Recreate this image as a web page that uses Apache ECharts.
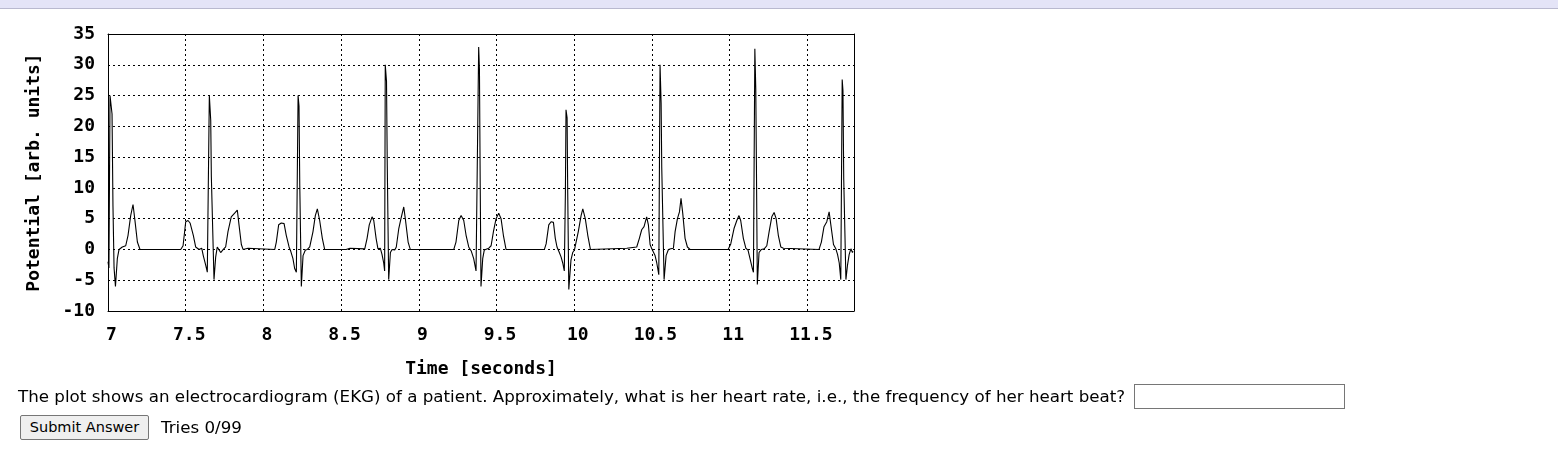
<!DOCTYPE html>
<html>
<head>
<meta charset="utf-8">
<title>EKG</title>
<script src="https://cdn.jsdelivr.net/npm/echarts@6/dist/echarts.min.js"></script>
<style>
  body { margin: 0; width: 1558px; height: 453px; background: #fff; position: relative; overflow: hidden; font-family: "DejaVu Sans", Verdana, sans-serif; }
  .topbar { position: absolute; left: 0; top: 0; width: 1558px; height: 8px; background: #e4e4f7; border-bottom: 1px solid #b9b9cf; }
  #chart { position: absolute; left: 0; top: 0; width: 1558px; height: 453px; }
  .question { position: absolute; left: 18px; top: 386px; font-size: 16.7px; color: #000; white-space: nowrap; }
  .answer { position: absolute; left: 1134px; top: 384px; width: 209px; height: 23px; border: 1px solid #767676; background: #fff; }
  .submit { position: absolute; left: 20px; top: 415px; width: 127px; height: 23px; border: 1px solid #767676; border-radius: 2px; background: #efefef; font-size: 14.5px; line-height: 23px; text-align: center; color: #000; }
  .tries { position: absolute; left: 161px; top: 417px; font-size: 16.7px; color: #000; }
</style>
</head>
<body>
<div id="chart"></div>
<div class="topbar"></div>
<div class="question">The plot shows an electrocardiogram (EKG) of a patient. Approximately, what is her heart rate, i.e., the frequency of her heart beat?</div>
<div class="answer"></div>
<div class="submit">Submit Answer</div>
<div class="tries">Tries 0/99</div>
<script>
  // time [s] and potential, vertex by vertex
  var timeSec = [
    7.000, 7.006, 7.013, 7.019, 7.026, 7.032, 7.039, 7.048, 7.060, 7.071, 7.092, 7.114, 7.129, 7.146, 7.161, 7.172, 7.189, 7.206,
    7.468, 7.483, 7.500, 7.515, 7.528, 7.536, 7.549, 7.564, 7.586, 7.603, 7.613, 7.629, 7.639, 7.652, 7.658, 7.661, 7.665, 7.682,
    7.693, 7.703, 7.714, 7.725, 7.742, 7.757, 7.772, 7.793, 7.815, 7.832, 7.843, 7.858, 7.869, 7.901,
    8.073, 8.083, 8.098, 8.115, 8.133, 8.147, 8.165, 8.176, 8.190, 8.201, 8.212, 8.223, 8.229, 8.234, 8.244,
    8.255, 8.270, 8.283, 8.298, 8.319, 8.334, 8.347, 8.362, 8.379, 8.394, 8.532, 8.557,
    8.652, 8.667, 8.681, 8.699, 8.710, 8.725, 8.737, 8.752, 8.763, 8.774, 8.780, 8.784, 8.792, 8.797, 8.806,
    8.817, 8.828, 8.845, 8.855, 8.871, 8.885, 8.903, 8.913, 8.931, 8.945,
    9.225, 9.239, 9.257, 9.272, 9.289, 9.304, 9.321, 9.338, 9.353, 9.368, 9.385, 9.390, 9.395, 9.400,
    9.411, 9.421, 9.432, 9.450, 9.465, 9.480, 9.497, 9.514, 9.529, 9.544, 9.561,
    9.808, 9.819, 9.836, 9.851, 9.866, 9.878, 9.889, 9.904, 9.915, 9.926, 9.936, 9.943, 9.947, 9.954, 9.958, 9.965,
    9.979, 9.990, 10.001, 10.012, 10.026, 10.044, 10.055, 10.071, 10.087, 10.104, 10.338,
    10.402, 10.419, 10.434, 10.449, 10.466, 10.477, 10.488, 10.499, 10.509, 10.520, 10.531, 10.544, 10.552, 10.559, 10.563, 10.578,
    10.591, 10.606, 10.621, 10.638, 10.649, 10.664, 10.677, 10.687, 10.698, 10.713, 10.728, 10.745,
    10.990, 11.007, 11.028, 11.046, 11.060, 11.071, 11.088, 11.104, 11.118, 11.131, 11.146, 11.153, 11.162, 11.168, 11.172, 11.178,
    11.189, 11.204, 11.222, 11.239, 11.254, 11.271, 11.286, 11.299, 11.313, 11.329, 11.346,
    11.575, 11.590, 11.607, 11.625, 11.640, 11.651, 11.668, 11.683, 11.694, 11.705, 11.715, 11.724, 11.729, 11.734, 11.748,
    11.758, 11.769, 11.780, 11.790, 11.794
  ]
  var potential = [
    -2, -3, 25, 25, 22, 7, -3, -6, -1.5, 0, 0.4, 0.6, 2.3, 5.5, 7.3, 5, 1.2, 0,
    0, 0.6, 4.5, 4.7, 4.3, 4.5, 2.3, 0.4, 0, 0.2, -1, -2.6, -3.7, 25, 25, 21, 11.8, -4.9,
    -1.2, 0.4, 0.2, -0.5, 0, 0.4, 2.9, 5.3, 5.9, 6.4, 4, 0.8, 0, 0.2,
    0, 1.2, 4, 4.3, 4.2, 2.3, 0.4, -0.3, -1.5, -3.1, -3.7, 25, 23.3, 10.3, -6,
    -1, -0.1, 0, 0.4, 2.9, 5.5, 6.6, 4.7, 1.8, 0, 0, 0.2,
    0.1, 1.8, 4, 5.3, 4.7, 1.8, 0.1, 0.2, -0.8, -2.2, -3.5, 30, 27.3, 13.5, -4.9,
    -0.5, 0, -0.1, 0.4, 3.4, 5, 6.9, 5, 1.2, 0,
    0, 1.2, 4.7, 5.5, 4.7, 2.3, 0.4, -0.3, -1.5, -3.5, 32.9, 29.3, 10.3, -6,
    -1.5, -0.1, 0.1, 0.2, 0.6, 2.9, 5, 5.9, 5, 2.3, 0,
    0, 0.9, 4, 4.5, 4.4, 1.8, 0.4, -0.5, -1.2, -2.2, -3.5, 9.2, 22.7, 21.4, 9.2, -6.5,
    -1.7, -0.5, -0.1, 0.2, 2.9, 5.5, 6.6, 5, 2.3, 0, 0.2,
    0.4, 1.8, 3.2, 3.7, 5.3, 4, 0.8, 0.1, -0.2, -1, -2.2, -4.1, 30, 23.8, 13.3, -4.9,
    -1, 0, 0.1, 0.2, 2.9, 5, 6.1, 8.3, 5.9, 1.8, 0.4, 0,
    0, 0.9, 3.4, 4.7, 5.5, 4.7, 1.8, 0.2, -0.1, -1.5, -3.1, -3.7, 32.6, 26.1, 14.2, -5.7,
    -0.5, 0, 0.1, 0.6, 2.9, 5.3, 6, 5, 2.3, 0.4, 0.2,
    0, 1.2, 3.7, 4.5, 6.1, 4, 0.8, 0.1, -0.8, -2.2, -4.9, 27.6, 25.8, 11.4, -4.9,
    -2.6, -0.8, 0.1, -0.5, -0.3
  ]
  var xTicks = [7, 7.5, 8, 8.5, 9, 9.5, 10, 10.5, 11, 11.5]
  var yTicks = [-10, -5, 0, 5, 10, 15, 20, 25, 30, 35]

  var labelFont = {
    fontFamily: 'DejaVu Sans Mono',
    fontWeight: 'bold',
    fontSize: 18,
    color: '#000'
  }
  var gridLine = {
    show: true,
    showMinLine: false,
    showMaxLine: false,
    lineStyle: { color: '#000', width: 1, type: [2, 3] }
  }
  var frameLine = { show: true, onZero: false, lineStyle: { color: '#000', width: 1 } }

  var myChart = echarts.init(document.getElementById('chart'))
  var option = {
    animation: false,
    grid: {
      left: 108,
      top: 34,
      width: 746,
      height: 277
    },
    xAxis: [{
      type: 'value',
      position: 'bottom',
      min: 7,
      max: 11.8,
      interval: 0.5,
      name: 'Time [seconds]',
      nameLocation: 'middle',
      nameGap: 49,
      nameTextStyle: labelFont,
      axisLine: frameLine,
      axisTick: { show: false },
      splitLine: gridLine,
      axisLabel: Object.assign({
        margin: 15,
        padding: [0, 0, 0, 7],
        showMaxLabel: false,
        formatter: function (v) {
          var r = Math.round(v * 10) / 10
          return xTicks.indexOf(r) >= 0 ? String(r) : ''
        }
      }, labelFont)
    }, {
      type: 'value',
      position: 'top',
      min: 7,
      max: 11.8,
      axisLine: frameLine,
      axisTick: { show: false },
      axisLabel: { show: false },
      splitLine: { show: false }
    }],
    yAxis: [{
      type: 'value',
      position: 'left',
      min: -10,
      max: 35,
      interval: 5,
      name: 'Potential [arb. units]',
      nameLocation: 'middle',
      nameGap: 65,
      nameTextStyle: labelFont,
      axisLine: frameLine,
      axisTick: { show: false },
      splitLine: gridLine,
      axisLabel: Object.assign({
        margin: 13,
        formatter: function (v) {
          return yTicks.indexOf(v) >= 0 ? String(v) : ''
        }
      }, labelFont)
    }, {
      type: 'value',
      position: 'right',
      min: -10,
      max: 35,
      axisLine: frameLine,
      axisTick: { show: false },
      axisLabel: { show: false },
      splitLine: { show: false }
    }],
    series: [{
      name: 'EKG',
      type: 'line',
      showSymbol: false,
      data: timeSec.map(function (t, i) { return [t, potential[i]] }),
      lineStyle: { color: '#000', width: 1.1 }
    }]
  }
  myChart.setOption(option)
</script>
</body>
</html>
